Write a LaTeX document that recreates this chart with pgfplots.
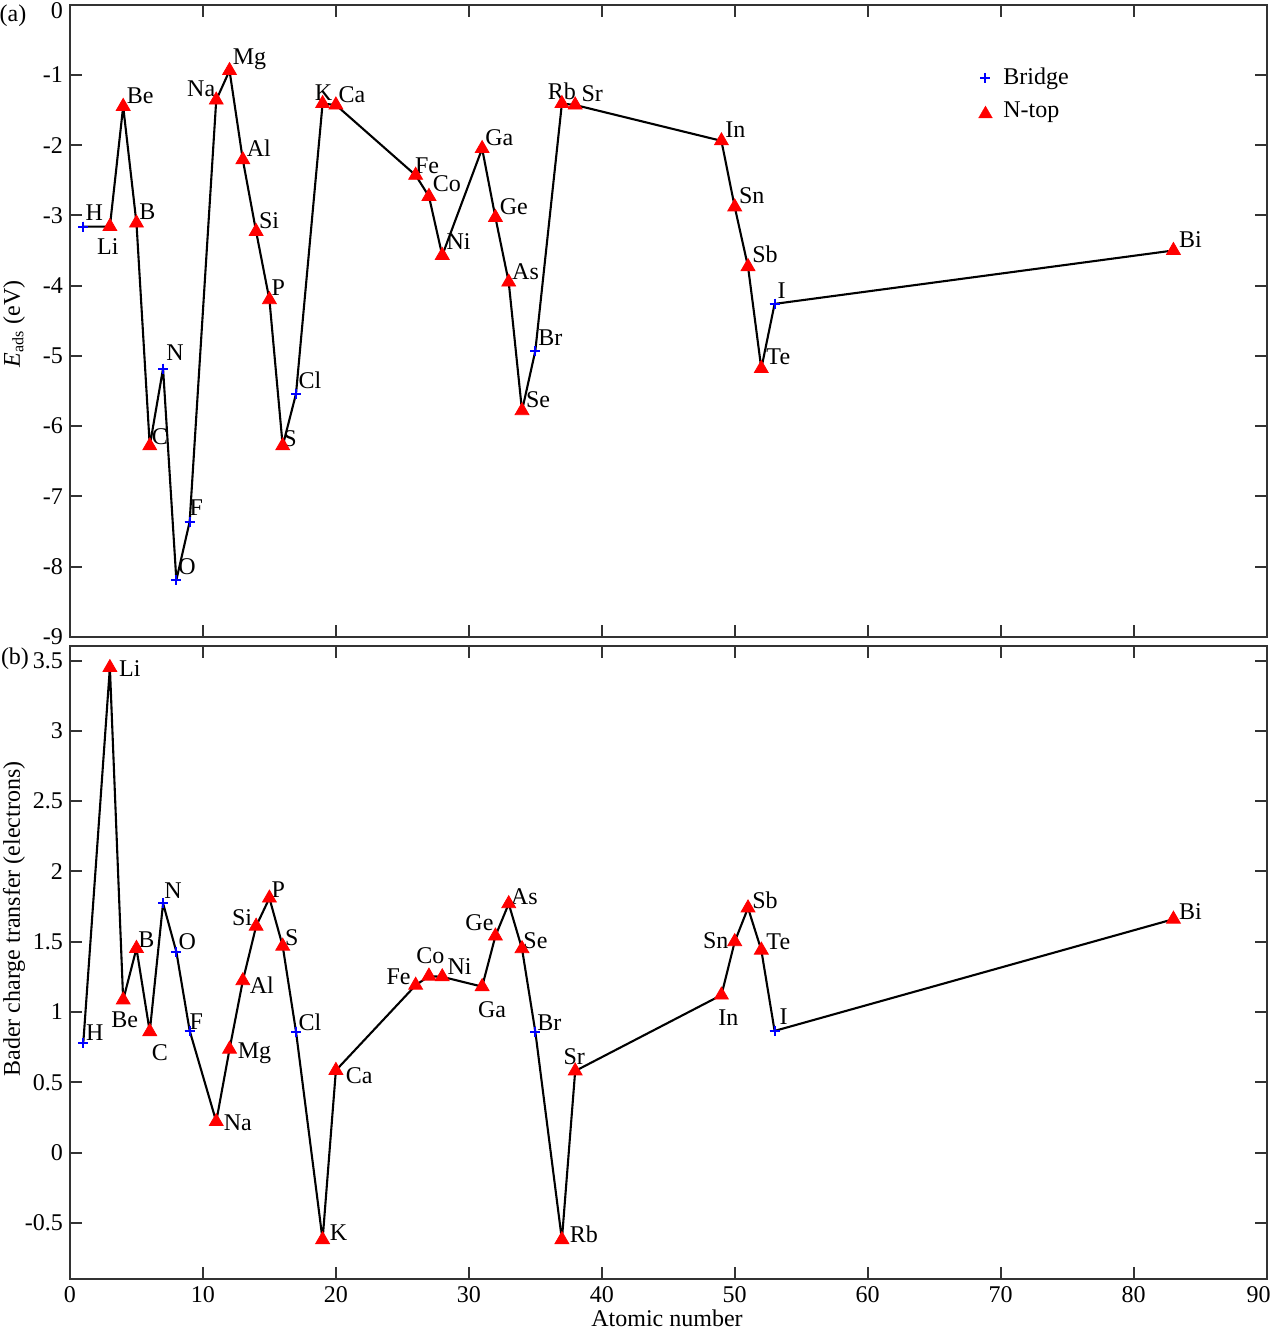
\documentclass[border=0pt]{standalone}
\usepackage{fontspec}
\setmainfont{Liberation Serif}
\usepackage{pgfplots}
\pgfplotsset{compat=1.18}
\usepackage{pgfplotstable}

% Z: atomic number, E: adsorption energy (eV), Q: Bader charge (e),
% site: B = bridge, T = N-top
\pgfplotstableread{
Z   E      Q      site
1   -3.16  0.78   B
3   -3.16  3.45   T
4   -1.45  1.085  T
5   -3.11  1.452  T
6   -6.28  0.86   T
7   -5.18  1.773  B
8   -8.19  1.428  B
9   -7.36  0.867  B
11  -1.36  0.22   T
12  -0.94  0.735  T
13  -2.21  1.222  T
14  -3.23  1.61   T
15  -4.20  1.81   T
16  -6.28  1.468  T
17  -5.54  0.86   B
19  -1.41  -0.62  T
20  -1.43  0.584  T
26  -2.43  1.19   T
27  -2.73  1.255  T
28  -3.57  1.25   T
31  -2.05  1.18   T
32  -3.03  1.54   T
33  -3.95  1.77   T
34  -5.78  1.45   T
35  -4.93  0.86   B
37  -1.41  -0.62  T
38  -1.43  0.58   T
49  -1.94  1.12   T
50  -2.88  1.50   T
51  -3.73  1.74   T
52  -5.18  1.44   T
53  -4.26  0.865  B
83  -3.50  1.66   T
}\elements

\newcommand\lbl{\fontsize{12}{14}\selectfont}
% element name beside a point: x, y, name, shift right, shift up (pt)
\newcommand\el[5]{\node[font=\lbl, inner sep=0pt, xshift=#4pt, yshift=#5pt] at (axis cs:#1,#2) {#3};}

\tikzset{
  bridgemark/.style={mark=+, blue, mark size=2.5pt, line width=1pt, mark options={line width=1pt}},
  ntopmark/.style={mark=triangle*, red, mark size=4pt, mark options={line width=0.1pt, yshift=-1.5pt}},
}

\pgfplotsset{
  panel/.style={
    scale only axis, width=598.25pt, height=316.25pt,
    xmin=0, xmax=90,
    axis line style={black!80, line width=1pt},
    every tick/.style={black!80, line width=1pt},
    major tick length=6pt, tick align=inside,
    tick label style={font=\lbl, black},
    clip=false,
  },
  % all sites (triangles end up below the connecting line)
  sites/.style={scatter, only marks, scatter src=explicit symbolic,
    scatter/classes={B={bridgemark}, T={ntopmark}}},
  % bridge crosses redrawn above the connecting line
  bridgetop/.style={scatter, only marks, scatter src=explicit symbolic, forget plot,
    line width=1pt, every mark/.append style={line width=1pt},
    scatter/classes={B={bridgemark}, T={mark=none}}},
  chain/.style={black, line width=1.05pt, line join=round, mark=none, forget plot},
}

\begin{document}
\begin{tikzpicture}
\path[use as bounding box] (0pt,0pt) rectangle (635pt,664.5pt);

% (a) adsorption energy
\begin{axis}[panel, at={(35pt,346pt)}, anchor=south west,
  xtick={0,10,...,90}, xticklabel=\empty,
  ymin=-9, ymax=0, ytick={-9,-8,...,-1},
  yticklabels={-9,-8,-7,-6,-5,-4,-3,-2,-1},
  extra y ticks={0}, extra y tick labels={0},
  extra y tick style={yticklabel style={yshift=-3pt}},
  legend cell align=left,
  legend style={draw=none, fill=none, at={(rel axis cs:0.754,0.913)},
    anchor=north west, font=\lbl, row sep=3pt,
    /tikz/every odd column/.append style={column sep=3.5pt}},
]
\addplot[sites] table[x=Z, y=E, meta=site]{\elements};
\legend{Bridge, N-top}
\addplot[chain] table[x=Z, y=E]{\elements};
\addplot[bridgetop] table[x=Z, y=E, meta=site]{\elements};
\el{1}{-3.16}{H}{5.5}{7}
\el{3}{-3.16}{Li}{-1}{-10}
\el{4}{-1.45}{Be}{8.5}{5.5}
\el{5}{-3.11}{B}{5.5}{5.5}
\el{6}{-6.28}{C}{5}{4.7}
\el{7}{-5.18}{N}{6}{7.7}
\el{8}{-8.19}{O}{5.3}{6.7}
\el{9}{-7.36}{F}{3.3}{6.8}
\el{11}{-1.36}{Na}{-7.5}{5.5}
\el{12}{-0.94}{Mg}{10}{5.5}
\el{13}{-2.21}{Al}{8}{6}
\el{14}{-3.23}{Si}{6.5}{5.5}
\el{15}{-4.20}{P}{4.5}{6}
\el{16}{-6.28}{S}{3.7}{3.8}
\el{17}{-5.54}{Cl}{7}{7}
\el{19}{-1.41}{K}{0.5}{5.5}
\el{20}{-1.43}{Ca}{8}{5}
\el{26}{-2.43}{Fe}{5.7}{5}
\el{27}{-2.73}{Co}{9}{6.3}
\el{28}{-3.57}{Ni}{8.2}{6.7}
\el{31}{-2.05}{Ga}{8.6}{5.7}
\el{32}{-3.03}{Ge}{9.2}{5.3}
\el{33}{-3.95}{As}{8.4}{5.2}
\el{34}{-5.78}{Se}{8}{5.5}
\el{35}{-4.93}{Br}{7.5}{6.5}
\el{37}{-1.41}{Rb}{0}{6}
\el{38}{-1.43}{Sr}{8.5}{5.5}
\el{49}{-1.94}{In}{7}{5.5}
\el{50}{-2.88}{Sn}{8.5}{5.5}
\el{51}{-3.73}{Sb}{8.5}{6}
\el{52}{-5.18}{Te}{8.5}{6}
\el{53}{-4.26}{I}{3.5}{6.5}
\el{83}{-3.50}{Bi}{8.5}{5.5}
\end{axis}

% (b) Bader charge transfer
\begin{axis}[panel, at={(35pt,25pt)}, anchor=south west,
  xtick={0,10,...,80},
  xticklabels={0,10,20,30,40,50,60,70,80},
  extra x ticks={90}, extra x tick labels={90},
  extra x tick style={xticklabel style={xshift=-4pt}},
  ymin=-0.9, ymax=3.6, ytick={-0.5,0,0.5,1,1.5,2,2.5,3,3.5},
  yticklabels={-0.5,0,0.5,1,1.5,2,2.5,3,3.5},
]
\addplot[sites] table[x=Z, y=Q, meta=site]{\elements};
\addplot[chain] table[x=Z, y=Q]{\elements};
\addplot[bridgetop] table[x=Z, y=Q, meta=site]{\elements};
\el{1}{0.78}{H}{5.8}{5}
\el{3}{3.45}{Li}{10}{-0.5}
\el{4}{1.085}{Be}{0.8}{-10}
\el{5}{1.452}{B}{5}{4.2}
\el{6}{0.86}{C}{5}{-10.5}
\el{7}{1.773}{N}{5}{6.2}
\el{8}{1.428}{O}{5.5}{5}
\el{9}{0.867}{F}{3.3}{4.5}
\el{11}{0.22}{Na}{10.8}{-0.7}
\el{12}{0.735}{Mg}{12.5}{-2}
\el{13}{1.222}{Al}{9.5}{-2.2}
\el{14}{1.61}{Si}{-7}{4.3}
\el{15}{1.81}{P}{4.5}{4.2}
\el{16}{1.468}{S}{4.5}{4.3}
\el{17}{0.86}{Cl}{7}{4.5}
\el{19}{-0.62}{K}{8}{3.5}
\el{20}{0.584}{Ca}{11.7}{-2.7}
\el{26}{1.19}{Fe}{-8.5}{4}
\el{27}{1.255}{Co}{0.7}{10}
\el{28}{1.25}{Ni}{8.7}{5.3}
\el{31}{1.18}{Ga}{5}{-11.7}
\el{32}{1.54}{Ge}{-8}{6.6}
\el{33}{1.77}{As}{7.8}{3.7}
\el{34}{1.45}{Se}{6.7}{3.9}
\el{35}{0.86}{Br}{7}{4.7}
\el{37}{-0.62}{Rb}{11}{2.5}
\el{38}{0.58}{Sr}{-0.5}{7}
\el{49}{1.12}{In}{3.5}{-11.5}
\el{50}{1.50}{Sn}{-9.5}{0.5}
\el{51}{1.74}{Sb}{8.5}{4}
\el{52}{1.44}{Te}{8.5}{4}
\el{53}{0.865}{I}{4.5}{7}
\el{83}{1.66}{Bi}{8.5}{4}
\end{axis}

\node[font=\lbl] at (6.5pt,656.5pt) {(a)};
\node[font=\lbl] at (7.5pt,335pt) {(b)};
\node[font=\lbl, rotate=90] at (7pt,502.5pt) {\textit{E}\textsubscript{ads} (eV)};
\node[font=\lbl, rotate=90] at (7pt,205pt) {Bader charge transfer (electrons)};
\node[font=\lbl, anchor=base] at (333.5pt,1.5pt) {Atomic number};
\end{tikzpicture}
\end{document}
